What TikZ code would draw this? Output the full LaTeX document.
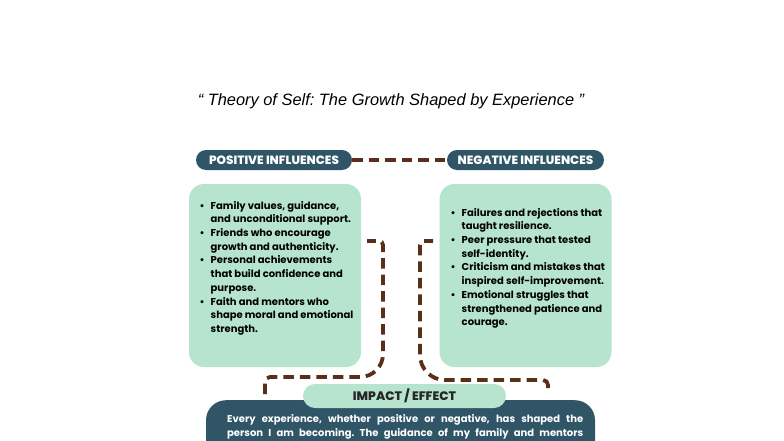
\documentclass[tikz,border=0pt]{standalone}
\usepackage{fontspec}
\setmainfont{Poppins}
\newfontfamily\titlefont{Liberation Sans}
\IfFontExistsTF{Poppins ExtraBold}{\newfontfamily\headfont{Poppins ExtraBold}}{\newcommand{\headfont}{\bfseries}}
\usepackage{tikz}
\definecolor{deepteal}{HTML}{2F5566}
\definecolor{mint}{HTML}{B6E4CF}
\definecolor{rust}{HTML}{5B2E1A}
\tikzset{
  pill/.style={fill=deepteal, text=white, rounded corners=10pt, minimum height=20pt, inner sep=0pt, font=\headfont\fontsize{12}{13}\selectfont},
  card/.style={fill=mint, rounded corners=15pt, minimum width=172pt, minimum height=183pt},
  link/.style={draw=rust, line width=3.8pt, dash pattern=on 10.5pt off 6pt},
  listtext/.style={anchor=north west, inner sep=0pt, font=\bfseries\fontsize{10}{13.7}\selectfont},
}
% bullet list with hanging lines
\newcommand{\bulletlist}[1]{\begin{tabular}{@{}p{11pt}@{}l@{}}#1\end{tabular}}
\frenchspacing

\begin{document}
\begin{tikzpicture}[x=1pt,y=-1pt]
\useasboundingbox (0,0) rectangle (784,441);
\clip (0,0) rectangle (784,441);
\node[font=\titlefont\itshape\fontsize{16.4}{18}\selectfont] (title) at (391,101) {“ Theory of Self: The Growth Shaped by Experience ”};
% headings
\node[pill, minimum width=156pt] (pos) at (274,160) {POSITIVE INFLUENCES};
\node[pill, minimum width=157pt] (neg) at (525.5,160) {NEGATIVE INFLUENCES};
\draw[link] (pos) -- (neg);
% cards
\node[card] (posbox) at (275,275.5) {};
\node[card] (negbox) at (525.5,275.5) {};
\node[listtext] (postext) at (199.5,199.4) {\bulletlist{
  \textbullet & Family values, guidance,\\
  & and unconditional support.\\
  \textbullet & Friends who encourage\\
  & growth and authenticity.\\
  \textbullet & Personal achievements\\
  & that build confidence and\\
  & purpose.\\
  \textbullet & Faith and mentors who\\
  & shape moral and emotional\\
  & strength.}};
\node[listtext] (negtext) at (450.5,206.4) {\bulletlist{
  \textbullet & Failures and rejections that\\
  & taught resilience.\\
  \textbullet & Peer pressure that tested\\
  & self-identity.\\
  \textbullet & Criticism and mistakes that\\
  & inspired self-improvement.\\
  \textbullet & Emotional struggles that\\
  & strengthened patience and\\
  & courage.}};
% impact
\node[fill=deepteal, rounded corners=20pt, minimum width=389pt, minimum height=100pt, anchor=north] (impactbox) at (400.5,400) {};
\node[fill=mint, rounded corners=12pt, minimum width=203pt, minimum height=24pt, inner sep=0pt, text=black!85, font=\headfont\fontsize{12.3}{13}\selectfont] (impact) at (404.5,396) {IMPACT / EFFECT};
\node[listtext, text=white, align=left] (impacttext) at (227,414.4) {%
  \makebox[356pt][s]{Every experience, whether positive or negative, has shaped the}\\
  \makebox[356pt][s]{person I am becoming. The guidance of my family and mentors}};
% links into the impact box
\coordinate (lhook) at (367,241);
\coordinate (lfoot) at (265,394);
\coordinate (rhook) at (433,241);
\coordinate (rfoot) at (548,388);
\draw[link] (lfoot) [rounded corners=5pt]-- (265,377) [rounded corners=23pt]-- (383,377) [rounded corners=4pt]-- (383,241) -- (lhook);
\draw[link] (rfoot) [rounded corners=5pt]-- (548,380) [rounded corners=25pt]-- (420,380) [rounded corners=4pt]-- (420,241) -- (rhook);
\end{tikzpicture}
\end{document}
